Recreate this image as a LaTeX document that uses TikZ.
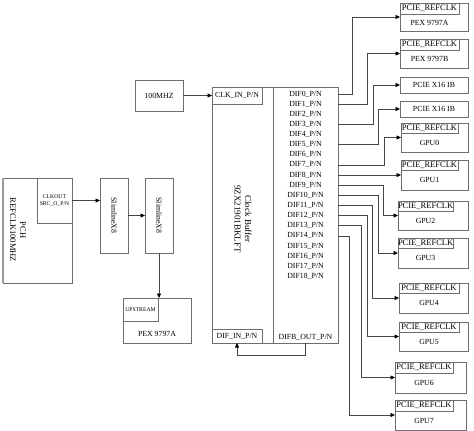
\documentclass[tikz,border=0pt]{standalone}
\usepackage{fontspec}
\setmainfont{Liberation Serif}
\usetikzlibrary{arrows.meta,calc}
\definecolor{boxc}{RGB}{110,110,110}
\definecolor{linec}{RGB}{70,70,70}
\newcommand{\fsA}{\fontsize{7.8}{8.5}\selectfont}
\newcommand{\fsH}{\fontsize{8.5}{9}\selectfont}
\newcommand{\fsS}{\fontsize{5.7}{6.8}\selectfont}
\newcommand{\fsL}{\fontsize{8.5}{10}\selectfont}
\newcommand{\fsC}{\fontsize{9}{10.5}\selectfont}
\begin{document}
\begin{tikzpicture}[x=1pt,y=-1pt,
 box/.style={draw=boxc,line width=0.6pt,anchor=north west,inner sep=0pt,outer sep=0pt},
 lbl/.style={inner sep=0pt,font=\fsA},
 conn/.style={draw=linec,line width=0.6pt},
 arr/.style={conn,-{Triangle[length=4.5pt,width=4pt,color=black]}}]
\useasboundingbox (0,0) rectangle (474,431);

% ---- left side ----
\node[box,minimum width=69pt,minimum height=105pt] (pch) at (3,178) {};
\draw[boxc!70,line width=1.6pt] (pch.north west) -- (pch.south west);
\node[lbl,font=\fsL,rotate=-90,align=center] (pcht) at (18,230) {PCH\\REFCLK100MHZ};
\node[box,font=\fsS,align=center,minimum width=35pt,minimum height=45pt] (clk) at (37,178) {CLKOUT\\SRC\_O\_P/N};
\node[box,minimum width=28pt,minimum height=75pt] (s1) at (100,178) {};
\node[lbl,rotate=-90] (s1t) at (s1.center) {SlimlineX8};
\node[box,minimum width=28pt,minimum height=75pt] (s2) at (145,178) {};
\node[lbl,rotate=-90] (s2t) at (s2.center) {SlimlineX8};
\node[box,minimum width=68pt,minimum height=45pt] (pexL) at (123,298) {};
\node[box,font=\fsS,minimum width=35pt,minimum height=23pt] (ups) at (123,298) {UPSTREAM};
\node[lbl] (pexLt) at (157,334) {PEX 9797A};
\node[box,font=\fsA,minimum width=48pt,minimum height=31pt] (mhz) at (135,80) {100MHZ};

% ---- clock buffer ----
\node[box,minimum width=61pt,minimum height=256pt] (cb) at (212,87) {};
\node[box,font=\fsA,minimum width=50pt,minimum height=17pt] (clkin) at (212,87) {CLK\_IN\_P/N};
\node[lbl,font=\fsC,rotate=-90,align=center] (cbt) at (243,219) {Clock Buffer\\9ZX21901BKLFT};
\node[box,minimum width=65pt,minimum height=256pt] (col) at (273,87) {};
\node[box,font=\fsA,minimum width=50pt,minimum height=14pt] (difin) at (212,329) {DIF\_IN\_P/N};
\node[lbl] (difout) at (305.5,337) {DIFB\_OUT\_P/N};
\foreach \i in {0,...,18} \node[lbl] (d\i) at (305.5,{94+10.13*\i}) {DIF\i\_P/N};

% ---- targets ----
\foreach \n/\xa/\ya/\xb/\yb/\hb/\hr/\t/\ty in {
 t1/400/3/468/31/14/459/{PEX 9797A}/23,
 t2/400/39/468/68/50/459/{PEX 9797B}/59,
 t5/401/123/468/152/133/458/GPU0/143,
 t6/401/160/468/190/170/458/GPU1/180,
 t7/398/201/468/230/211/453/GPU2/221,
 t8/398/238/468/268/248/453/GPU3/258,
 t9/399/283/468/313/293/459/GPU4/303,
 t10/399/322/468/351/332/459/GPU5/342,
 t11/395/362/466/393/373/453/GPU6/383,
 t12/395/400/466/430/411/453/GPU7/421}
{
 \node[box,minimum width={(\xb-\xa)*1pt},minimum height={(\yb-\ya)*1pt}] (\n) at (\xa,\ya) {};
 \node[box,font=\fsH,minimum width={(\hr-\xa)*1pt},minimum height={(\hb-\ya)*1pt}] (\n-h) at (\xa,\ya) {PCIE\_REFCLK};
 \node[lbl] (\n-t) at ({(\xa+\hr)/2},\ty) {\t};
}
\node[box,font=\fsA,minimum width=68pt,minimum height=16pt] (t3) at (400,77) {PCIE X16 IB};
\node[box,font=\fsA,minimum width=68pt,minimum height=16pt] (t4) at (400,101) {PCIE X16 IB};

% ---- connectors ----
\draw[arr] (mhz.east) -- (mhz.east -| clkin.west);
\draw[arr] (clk.east) -- (clk.east -| s1.west);
\draw[arr] (s1.east) -- (s2.west);
\draw[arr] (s2.south) -- (s2.south |- pexL.north);
\draw[arr] (col.south) -- ++(0,12) -| (difin.south);

\draw[arr] (col.east |- d0) -| ([xshift=-48pt]t1.west) -- (t1.west);
\draw[arr] (col.east |- d1) -| ([xshift=-33pt]t2.west) -- (t2.west);
\draw[arr] (col.east |- d3) -| ([xshift=-27pt]t3.west) -- (t3.west);
\draw[arr] (col.east |- d5) -| ([xshift=-22pt]t4.west) -- (t4.west);
\draw[arr] (col.east |- d7) -| ([xshift=-17pt]t5.west) -- (t5.west);
\draw[arr] (col.east |- d8) -- (d8 -| t6.west);
\draw[arr] (col.east |- d9) -| ([xshift=-15pt]t7.west) -- (t7.west);
\draw[arr] (col.east |- d10) -| ([xshift=-20pt]t8.west) -- (t8.west);
\draw[arr] (col.east |- d11) -| ([xshift=-27pt]t9.west) -- (t9.west);
\draw[arr] (col.east |- d12) -| ([xshift=-32pt]t10.west) -- (t10.west);
\draw[arr] (col.east |- d13) -| ([xshift=-34pt]t11.west) -- (t11.west);
\draw[arr] (col.east |- d14) -| ([xshift=-46pt]t12.west) -- (t12.west);
\end{tikzpicture}
\end{document}
